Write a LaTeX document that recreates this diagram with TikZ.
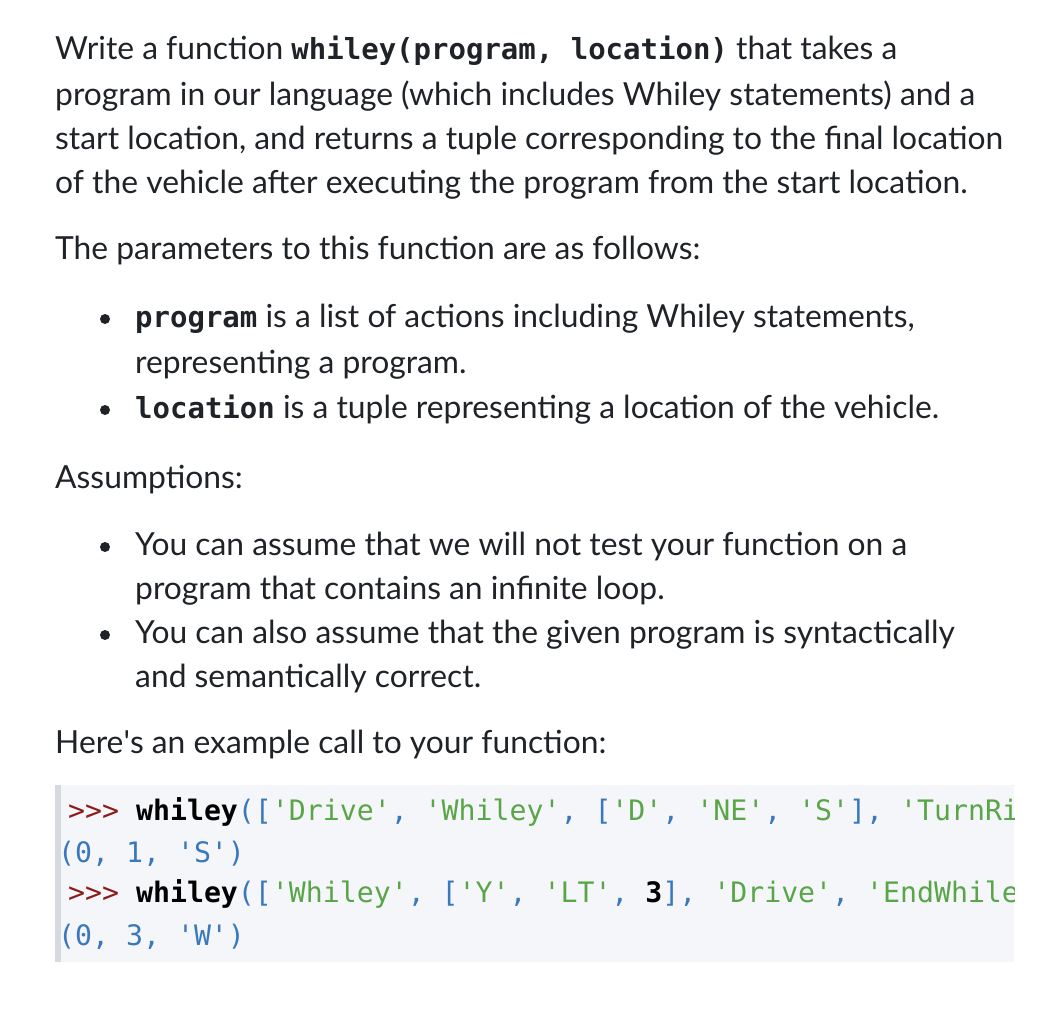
\documentclass[tikz,border=0pt]{standalone}
\usepackage{fontspec}
\setmainfont{Lato}
\setmonofont{DejaVu Sans Mono}
\definecolor{txt}{HTML}{1F2328}
\definecolor{cbg}{HTML}{F5F6F9}
\definecolor{cbar}{HTML}{D6DAE0}
\definecolor{pr}{HTML}{8B1C1C}
\definecolor{gr}{HTML}{5AA548}
\definecolor{bl}{HTML}{3A78BE}
\newcommand{\ic}[1]{{\ttfamily\bfseries\fontsize{29}{32}\selectfont #1}}
\newcommand{\G}[1]{\textcolor{gr}{#1}}
\newcommand{\B}[1]{\textcolor{bl}{#1}}
\begin{document}
\begin{tikzpicture}[x=1pt,y=-1pt,
  tl/.style={anchor=base west,inner sep=0pt,font=\fontsize{31.8}{34}\selectfont,text=txt},
  cl/.style={anchor=base west,inner sep=0pt,font=\ttfamily\fontsize{28.2}{30}\selectfont},
  dot/.style={circle,fill=txt,inner sep=0pt,minimum size=10pt}]
\useasboundingbox (0,0) rectangle (1064,1016);
\node[tl] (l1) at (55,60) {Write a function \ic{whiley(program, location)} that takes a};
\node[tl] (l2) at (55,106) {program in our language (which includes Whiley statements) and a};
\node[tl] (l3) at (55,150) {start location, and returns a tuple corresponding to the final location};
\node[tl] (l4) at (55,194) {of the vehicle after executing the program from the start location.};
\node[tl] (l5) at (55,259) {The parameters to this function are as follows:};
\node[dot] (d1) at (105,319) {};
\node[tl] (b1) at (135,327) {\ic{program} is a list of actions including Whiley statements,};
\node[tl] (b1b) at (135,373) {representing a program.};
\node[dot] (d2) at (105,410) {};
\node[tl] (b2) at (135,418) {\ic{location} is a tuple representing a location of the vehicle.};
\node[tl] (a0) at (55,488) {Assumptions:};
\node[dot] (d3) at (105,547) {};
\node[tl] (a1) at (135,555) {You can assume that we will not test your function on a};
\node[tl] (a1b) at (135,599) {program that contains an infinite loop.};
\node[dot] (d4) at (105,635) {};
\node[tl] (a2) at (135,643) {You can also assume that the given program is syntactically};
\node[tl] (a2b) at (135,687) {and semantically correct.};
\node[tl] (h) at (55,753) {Here\textquotesingle s an example call to your function:};
\fill[cbg] (55,785) rectangle (1014,962);
\fill[cbar] (55,785) rectangle (61,962);
\begin{scope}
\clip (55,785) rectangle (1014,962);
\node[cl] (c1) at (68,820) {\textcolor{pr}{>{}>{}>} \textbf{whiley}\B{([}\G{'Drive'}\B{,} \G{'Whiley'}\B{, [}\G{'D'}\B{,} \G{'NE'}\B{,} \G{'S'}\B{],} \G{'TurnRight'}};
\node[cl] (c2) at (58,862) {\B{(0, 1, 'S')}};
\node[cl] (c3) at (68,902) {\textcolor{pr}{>{}>{}>} \textbf{whiley}\B{([}\G{'Whiley'}\B{, [}\G{'Y'}\B{,} \G{'LT'}\B{,} \textbf{3}\B{],} \G{'Drive'}\B{,} \G{'EndWhiley'}};
\node[cl] (c4) at (58,945) {\B{(0, 3, 'W')}};
\end{scope}
\end{tikzpicture}
\end{document}
